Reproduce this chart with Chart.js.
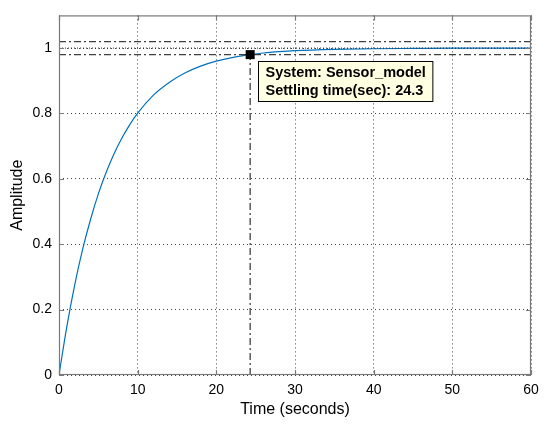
<!DOCTYPE html>
<html>
<head>
<meta charset="utf-8">
<script src="https://cdn.jsdelivr.net/npm/chart.js@4.4.1/dist/chart.umd.min.js"></script>
<style>
  html, body { margin: 0; padding: 0; background: #fff; }
  #wrap { width: 550px; height: 427px; }
</style>
</head>
<body>
<div id="wrap"><canvas id="stepChart" width="550" height="427"></canvas></div>
<script>
// step response
const timeSec = [0, 1, 2, 3, 4, 5, 6, 7, 8, 9, 10, 12, 14, 16, 18, 20, 22, 24.3, 26, 28, 30, 35, 40, 45, 50, 55, 60];
const amplitude = [0, 0.149, 0.276, 0.384, 0.475, 0.554, 0.62, 0.677, 0.725, 0.766, 0.801, 0.856, 0.895, 0.924,
  0.945, 0.96, 0.971, 0.98, 0.985, 0.989, 0.992, 0.996, 0.998, 0.999, 1.0, 1.0, 1.0];
const xTicks = [0, 10, 20, 30, 40, 50, 60];
const yTicks = [0, 0.2, 0.4, 0.6, 0.8, 1];
const settleTime = [24.3];
const settleBand = [0.98, 1.02];
const steadyValue = [1];
const infoLines = ["System: Sensor_model", "Settling time(sec): 24.3"];

const FONT = "'Liberation Sans', Arial, sans-serif";
const dashDot = [7, 3, 2, 3];

const curve = timeSec.map((t, i) => ({ x: t, y: amplitude[i] }));
const xMin = xTicks[0], xMax = xTicks[xTicks.length - 1];

// frame, inner tick marks and the data tip box
const matlabBits = {
  id: "matlabBits",
  afterDatasetsDraw(chart) {
    const { ctx, chartArea: a, scales } = chart;
    ctx.save();
    ctx.strokeStyle = "#7a7a7a";
    ctx.lineWidth = 1.2;
    ctx.strokeRect(a.left + 0.5, a.top + 0.5, a.right - a.left - 1, a.bottom - a.top - 1);
    ctx.beginPath();
    xTicks.forEach((v) => {
      const px = Math.round(scales.x.getPixelForValue(v)) + 0.5;
      ctx.moveTo(px, a.bottom); ctx.lineTo(px, a.bottom - 5);
      ctx.moveTo(px, a.top); ctx.lineTo(px, a.top + 5);
    });
    yTicks.forEach((v) => {
      const py = Math.round(scales.y.getPixelForValue(v)) + 0.5;
      ctx.moveTo(a.left, py); ctx.lineTo(a.left + 5, py);
      ctx.moveTo(a.right, py); ctx.lineTo(a.right - 5, py);
    });
    ctx.stroke();

    // data tip
    const mx = scales.x.getPixelForValue(settleTime[0]);
    const my = scales.y.getPixelForValue(settleBand[0]);
    ctx.font = "bold 14.5px " + FONT;
    const w = Math.max(...infoLines.map((s) => ctx.measureText(s).width)) + 14;
    const h = 40;
    const bx = Math.round(mx + 8) + 0.5, by = Math.round(my + 6) + 0.5;
    ctx.fillStyle = "#ffffe1";
    ctx.fillRect(bx, by, w, h);
    ctx.strokeStyle = "#000";
    ctx.lineWidth = 1;
    ctx.strokeRect(bx, by, w, h);
    ctx.fillStyle = "#000";
    ctx.textBaseline = "middle";
    ctx.fillText(infoLines[0], bx + 7, by + 11);
    ctx.fillText(infoLines[1], bx + 7, by + 29);
    ctx.fillRect(mx - 4.5, my - 4.5, 9, 9);
    ctx.restore();
  },
};

new Chart(document.getElementById("stepChart"), {
  type: "scatter",
  data: {
    datasets: [
      {
        data: [{ x: xMin, y: steadyValue[0] }, { x: xMax, y: steadyValue[0] }],
        showLine: true,
        borderColor: "#222",
        borderWidth: 1,
        borderDash: [1, 2],
        pointRadius: 0,
      },
      {
        data: [{ x: xMin, y: settleBand[1] }, { x: xMax, y: settleBand[1] }],
        showLine: true,
        borderColor: "#404040",
        borderWidth: 1.3,
        borderDash: dashDot,
        pointRadius: 0,
      },
      {
        data: [{ x: xMin, y: settleBand[0] }, { x: xMax, y: settleBand[0] }],
        showLine: true,
        borderColor: "#404040",
        borderWidth: 1.3,
        borderDash: dashDot,
        pointRadius: 0,
      },
      {
        data: [{ x: settleTime[0], y: 0 }, { x: settleTime[0], y: settleBand[0] }],
        showLine: true,
        borderColor: "#404040",
        borderWidth: 1.3,
        borderDash: dashDot,
        pointRadius: 0,
      },
      {
        data: curve,
        showLine: true,
        borderColor: "#0072BD",
        borderWidth: 1.2,
        pointRadius: 0,
        cubicInterpolationMode: "monotone",
      },
    ],
  },
  options: {
    responsive: false,
    animation: false,
    layout: { padding: { top: 12, right: 19, left: 0, bottom: 0 } },
    plugins: { legend: { display: false }, tooltip: { enabled: false } },
    scales: {
      x: {
        type: "linear",
        min: xMin,
        max: xMax,
        afterBuildTicks: (s) => { s.ticks = xTicks.map((v) => ({ value: v })); },
        afterFit: (s) => { s.height = 52; },
        grid: { color: "#444", lineWidth: 1, drawTicks: false },
        border: { display: false, dash: [1, 3] },
        ticks: { color: "#000", padding: 7, font: { family: FONT, size: 14 }, callback: (v) => String(v) },
        title: { display: true, text: "Time (seconds)", color: "#000", padding: { top: 0, bottom: 8 }, font: { family: FONT, size: 16 } },
      },
      y: {
        min: 0,
        max: 1.1,
        afterBuildTicks: (s) => { s.ticks = yTicks.map((v) => ({ value: v })); },
        afterFit: (s) => { s.width = 59; },
        grid: { color: "#444", lineWidth: 1, drawTicks: false },
        border: { display: false, dash: [1, 3] },
        ticks: { color: "#000", padding: 7, font: { family: FONT, size: 14 }, callback: (v) => String(v) },
        title: { display: true, text: "Amplitude", color: "#000", padding: { top: 8, bottom: 0 }, font: { family: FONT, size: 16 } },
      },
    },
  },
  plugins: [matlabBits],
});
</script>
</body>
</html>
